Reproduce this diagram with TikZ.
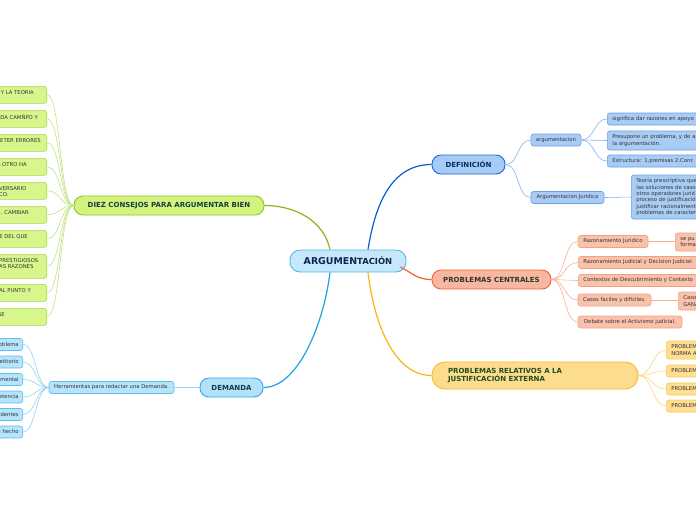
\documentclass[tikz,border=0pt]{standalone}
\usepackage{fontspec}
\setmainfont{DejaVu Sans}
\usetikzlibrary{calc}

\definecolor{leafink}{HTML}{333333}
\definecolor{rootFill}{HTML}{C5E9FB}
\definecolor{rootLine}{HTML}{56B3E9}
\definecolor{rootInk}{HTML}{0E2350}
% definicion
\definecolor{defFill}{HTML}{A5CBF6}
\definecolor{defLine}{HTML}{2266D6}
\definecolor{defInk}{HTML}{0F2D55}
\definecolor{defMain}{HTML}{0C5BD1}
\definecolor{defLeafFill}{HTML}{A9CCF5}
\definecolor{defLeafLine}{HTML}{6A9FE6}
\definecolor{defSub}{HTML}{86B0EE}
% problemas centrales
\definecolor{pcFill}{HTML}{F9B6A0}
\definecolor{pcLine}{HTML}{F06433}
\definecolor{pcInk}{HTML}{2B3A2A}
\definecolor{pcMain}{HTML}{F4602E}
\definecolor{pcLeafFill}{HTML}{F9C2AC}
\definecolor{pcLeafLine}{HTML}{F7A080}
\definecolor{pcSub}{HTML}{F8AE92}
% problemas relativos
\definecolor{prFill}{HTML}{FEDC8D}
\definecolor{prLine}{HTML}{F9B829}
\definecolor{prInk}{HTML}{1F4D1F}
\definecolor{prMain}{HTML}{FBB416}
\definecolor{prLeafFill}{HTML}{FEDE93}
\definecolor{prLeafLine}{HTML}{FBCB58}
\definecolor{prSub}{HTML}{FCD680}
% diez consejos
\definecolor{dzFill}{HTML}{D2F47F}
\definecolor{dzLine}{HTML}{8EC52A}
\definecolor{dzInk}{HTML}{1B3D3A}
\definecolor{dzMain}{HTML}{8BB31C}
\definecolor{dzLeafFill}{HTML}{D7F78C}
\definecolor{dzLeafLine}{HTML}{A9DA4E}
\definecolor{dzSub}{HTML}{C3E484}
% demanda
\definecolor{dmFill}{HTML}{B2E2FA}
\definecolor{dmLine}{HTML}{32A9E7}
\definecolor{dmInk}{HTML}{16394F}
\definecolor{dmMain}{HTML}{1AA2E3}
\definecolor{dmLeafFill}{HTML}{B5E4FB}
\definecolor{dmLeafLine}{HTML}{5FBEEC}
\definecolor{dmSub}{HTML}{92D3F3}

\tikzset{
	rootBox/.style={draw=rootLine, fill=rootFill, line width=0.9pt, rounded corners=10pt, minimum width=116pt, minimum height=22pt, inner sep=0pt, text=rootInk, font=\bfseries},
	topic/.style={draw, line width=0.9pt, rounded corners=9pt, minimum height=19pt, inner sep=0pt, font=\fontsize{7}{8.4}\selectfont\bfseries},
	leaf/.style={draw, line width=0.6pt, rounded corners=2.5pt, minimum height=12pt, inner xsep=5pt, inner ysep=0pt, text=leafink, font=\fontsize{5.3}{6.3}\selectfont},
	cutR/.style={anchor=west, text width=110pt, align=left},
	cutL/.style={anchor=east, text width=50pt, align=right, inner xsep=4pt},
	sideBox/.style={anchor=north east, minimum width=80pt},
	sideText/.style={inner sep=0pt, align=left, text=leafink, font=\fontsize{5.3}{6.6}\selectfont},
	mainLink/.style={line width=1.2pt},
	subLink/.style={line width=0.6pt},
	defTopic/.style={topic, fill=defFill, draw=defLine, text=defInk},
	pcTopic/.style={topic, fill=pcFill, draw=pcLine, text=pcInk},
	prTopic/.style={topic, fill=prFill, draw=prLine, text=prInk},
	dzTopic/.style={topic, fill=dzFill, draw=dzLine, text=dzInk},
	dmTopic/.style={topic, fill=dmFill, draw=dmLine, text=dmInk},
	defLeaf/.style={leaf, fill=defLeafFill, draw=defLeafLine},
	pcLeaf/.style={leaf, fill=pcLeafFill, draw=pcLeafLine},
	prLeaf/.style={leaf, fill=prLeafFill, draw=prLeafLine},
	dzLeaf/.style={leaf, fill=dzLeafFill, draw=dzLeafLine},
	dmLeaf/.style={leaf, fill=dmLeafFill, draw=dmLeafLine},
}

\begin{document}
\begin{tikzpicture}[x=1pt,y=-1pt]
	%%%%% START %%%%%
	\useasboundingbox (0,0) rectangle (696,520);
	\fill[white] (0,0) rectangle (696,520);
	\clip (0,0) rectangle (696,520);

	% centre
	\node[rootBox] (root) at (348,261) {\fontsize{9.4}{10}\selectfont ARGUMEN\raisebox{-0.5pt}{\fontsize{8.4}{10}\selectfont TACIÓN}};

	% main topics
	\node[defTopic, minimum width=73pt] (defn) at (468.5,164.5) {DEFINICIÓN};
	\node[pcTopic, minimum width=119pt] (pcen) at (491.5,279.5) {PROBLEMAS CENTRALES};
	\node[prTopic, minimum height=27pt, rounded corners=13pt, text width=174pt, inner xsep=16pt, align=left] (prel) at (535,375.5) {PROBLEMAS RELATIVOS A LA\\JUSTIFICACIÓN EXTERNA};
	\node[dzTopic, minimum width=190pt] (diez) at (169,205.5) {DIEZ CONSEJOS PARA ARGUMENTAR BIEN};
	\node[dmTopic, minimum width=63pt] (dem) at (231.5,387.5) {DEMANDA};

	\draw[mainLink, defMain] ($(root.north)+(20,0)$) .. controls +(8,-50) and +(-38,0) .. (defn.west);
	\draw[mainLink, pcMain] ($(root.east)+(-6,6)$) .. controls +(12,6) and +(-15,0) .. (pcen.west);
	\draw[mainLink, prMain] ($(root.south)+(20,0)$) .. controls +(6,50) and +(-38,0) .. (prel.west);
	\draw[mainLink, dzMain] ($(root.north)+(-18,0)$) .. controls +(-6,-28) and +(32,0) .. (diez.east);
	\draw[mainLink, dmMain] ($(root.south)+(-18,0)$) .. controls +(-6,50) and +(35,0) .. (dem.east);

	% definicion
	\node[defLeaf, minimum width=50pt] (arg) at (556,140) {argumentacion};
	\node[defLeaf, minimum width=73pt] (argj) at (567.5,197.5) {Argumentacion Juridica};
	\node[defLeaf, cutR] (sig) at (607,119) {significa dar razones en apoyo};
	\node[defLeaf, cutR, minimum height=19pt] (pres) at (607,140.5) {Presupone un problema, y de a\\la argumentación.};
	\node[defLeaf, cutR] (estr) at (607,161) {Estructura: 1.premisas 2.Conc};
	\node[defLeaf, cutR, minimum height=44pt] (teor) at (631,197) {Teoría prescriptiva que\\las soluciones de caso\\otros operadores juríd\\proceso de justificació\\justificar racionalment\\problemas de caracter};

	\foreach \c in {arg,argj}
		\draw[subLink, defSub] (defn.east) .. controls +(14,0) and +(-14,0) .. (\c.west);
	\foreach \c in {sig,pres,estr}
		\draw[subLink, defSub] (arg.east) .. controls +(13,0) and +(-13,0) .. (\c.west);
	\draw[subLink, defSub] (argj.east) -- (teor.west);

	% problemas centrales
	\node[pcLeaf, minimum width=70pt] (rj) at (613,241.5) {Razonamiento Juridico};
	\node[pcLeaf, cutR, minimum height=18pt] (rjc) at (675,242) {se pu\\forma};
	\node[pcLeaf, cutR] (rjd) at (578,262.5) {Razonamiento Judicial y Decision Judicial};
	\node[pcLeaf, cutR] (cdc) at (578,280.5) {Contextos de Descubrimiento y Contexto};
	\node[pcLeaf, minimum width=73pt] (cfd) at (614.5,300) {Casos faciles y dificiles.};
	\node[pcLeaf, cutR, minimum height=18pt] (cfdc) at (678,301) {Caso\\GANA};
	\node[pcLeaf, minimum width=104pt] (deb) at (630,322) {Debate sobre el Activismo judicial.};

	\foreach \c in {rj,rjd,cdc,cfd,deb}
		\draw[subLink, pcSub] (pcen.east) .. controls +(14,0) and +(-14,0) .. (\c.west);
	\draw[subLink, pcSub] (rj.east) -- (rjc.west |- rj.east);
	\draw[subLink, pcSub] (cfd.east) -- (cfdc.west |- cfd.east);

	% problemas relativos
	\node[prLeaf, cutR, minimum height=18pt] (pr1) at (666,350) {PROBLEM\\NORMA A};
	\node[prLeaf, cutR] (pr2) at (666,371) {PROBLEM};
	\node[prLeaf, cutR] (pr3) at (666,389) {PROBLEM};
	\node[prLeaf, cutR] (pr4) at (666,406) {PROBLEM};

	\foreach \c in {pr1,pr2,pr3,pr4}
		\draw[subLink, prSub] (prel.east) .. controls +(14,0) and +(-14,0) .. (\c.west);

	% diez consejos
	\node[dzLeaf, sideBox, minimum height=17pt] (g1) at (47,86) {};
	\node[dzLeaf, sideBox, minimum height=17pt] (g2) at (47,110) {};
	\node[dzLeaf, sideBox, minimum height=17pt] (g3) at (47,134) {};
	\node[dzLeaf, sideBox, minimum height=17pt] (g4) at (47,158) {};
	\node[dzLeaf, sideBox, minimum height=17pt] (g5) at (47,182) {};
	\node[dzLeaf, sideBox, minimum height=17pt] (g6) at (47,206) {};
	\node[dzLeaf, sideBox, minimum height=17pt] (g7) at (47,230) {};
	\node[dzLeaf, sideBox, minimum height=24pt] (g8) at (47,254) {};
	\node[dzLeaf, sideBox, minimum height=17pt] (g9) at (47,284) {};
	\node[dzLeaf, sideBox, minimum height=17pt] (g10) at (47,308) {};

	\node[sideText, anchor=north east] (g1t) at (34,90) {Y LA TEORIA};
	\node[sideText, anchor=north east] (g2t) at (38,114) {ADA CAMÑPO Y};
	\node[sideText, anchor=north east] (g3t) at (41,138) {ETER ERRORES};
	\node[sideText, anchor=north east] (g4t) at (27,162) {L OTRO HA};
	\node[sideText, anchor=north west] (g5t) at (-1,186) {VERSARIO\\CO.};
	\node[sideText, anchor=north east] (g6t) at (29,210) {, CAMBIAR};
	\node[sideText, anchor=north east] (g7t) at (28,234) {E DEL QUE};
	\node[sideText, anchor=north west] (g8t) at (-1,258) {PRESTIGIOSOS\\AS RAZONES};
	\node[sideText, anchor=north east] (g9t) at (31,288) {AL PUNTO Y};
	\node[sideText, anchor=north east] (g10t) at (5,312) {SE};

	\foreach \i in {1,...,10}
		\draw[subLink, dzSub] (diez.west) .. controls +(-14,0) and +(14,0) .. (g\i.east);

	% demanda
	\node[dmLeaf, minimum width=125pt] (herr) at (111.5,387.5) {Herramientas para redactar una Demanda.};
	\node[dmLeaf, cutL] (d1) at (23,344.5) {oblema};
	\node[dmLeaf, cutL] (d2) at (23,362) {etitorio};
	\node[dmLeaf, cutL] (d3) at (23,379.5) {mental};
	\node[dmLeaf, cutL] (d4) at (23,397) {etencia};
	\node[dmLeaf, cutL] (d5) at (23,414.5) {edentes};
	\node[dmLeaf, cutL] (d6) at (23,432) {n hecho};

	\draw[subLink, dmSub] (dem.west) -- (herr.east);
	\foreach \i in {1,...,6}
		\draw[subLink, dmSub] (herr.west) .. controls +(-13,0) and +(13,0) .. (d\i.east);

	%%%%% END %%%%%
\end{tikzpicture}
\end{document}
